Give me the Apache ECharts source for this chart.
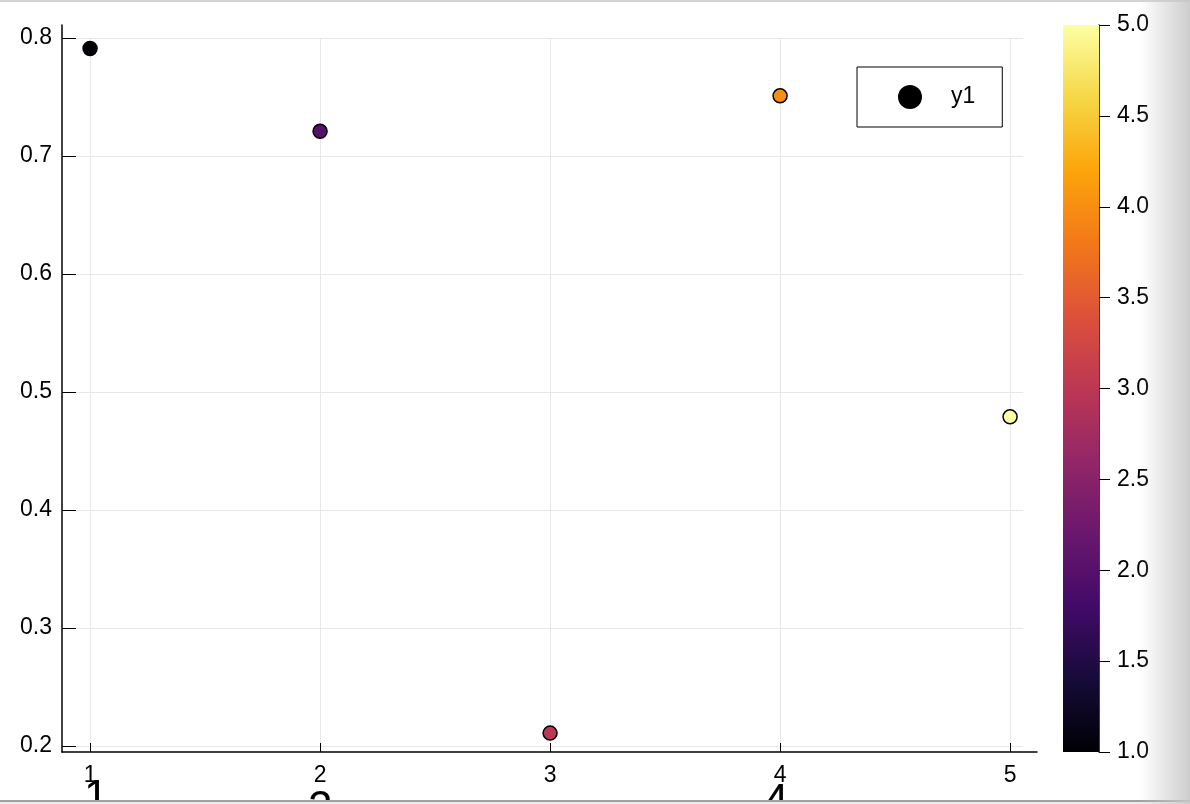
<!DOCTYPE html>
<html>
<head>
<meta charset="utf-8">
<script src="https://cdn.jsdelivr.net/npm/echarts@6/dist/echarts.min.js"></script>
<style>
html,body{margin:0;padding:0;background:#fff;}
#chart{width:1190px;height:804px;}
</style>
</head>
<body>
<div id="chart"></div>
<script>
const xValues = [1, 2, 3, 4, 5];
const yValues = [0.791, 0.721, 0.211, 0.751, 0.479];
const colorValues = [1, 2, 3, 4, 5];
const seriesName = 'y1';
const infernoStops = ['#000004', '#160b39', '#420a68', '#6a176e', '#932667', '#bc3754', '#dd513a', '#f37819', '#fca50a', '#f6d746', '#fcffa4'];
const colorbarCategory = ['cb'];

const cMin = Math.min(...colorValues), cMax = Math.max(...colorValues);
const points = xValues.map((x, i) => [x, yValues[i], colorValues[i]]);

const font = '"Liberation Sans", Arial, sans-serif';
const FS = 23;
const chart = echarts.init(document.getElementById('chart'), null, {renderer: 'canvas'});

const gradStops = infernoStops.map((c, i) => ({offset: 1 - i / (infernoStops.length - 1), color: c}));

const X_MIN = 0.878, X_MAX = 5.117, Y_MIN = 0.195, Y_MAX = 0.811;

chart.setOption({
  animation: false,
  backgroundColor: '#fff',
  textStyle: {fontFamily: font},
  grid: [
    {left: 62, top: 25, right: 153, bottom: 52, containLabel: false},
    {left: 1063, top: 25, width: 36, height: 727, containLabel: false},
    {left: 62, top: 38, right: 167, bottom: 52, containLabel: false}
  ],
  xAxis: [
    {
      gridIndex: 0, type: 'value', min: X_MIN, max: X_MAX, splitNumber: 4,
      axisLine: {show: true, onZero: false, lineStyle: {color: '#000', width: 1.5}},
      axisTick: {show: true, inside: true, length: 9, lineStyle: {color: '#000', width: 1}},
      axisLabel: {color: '#000', fontSize: FS, margin: 12, fontFamily: font, showMinLabel: false, showMaxLabel: false},
      splitLine: {show: false}
    },
    {
      gridIndex: 1, type: 'category', data: colorbarCategory, show: false
    },
    {
      gridIndex: 2, type: 'value', min: X_MIN, max: 5.056, splitNumber: 4,
      axisLine: {show: false}, axisTick: {show: false}, axisLabel: {show: false},
      splitLine: {show: true, showMinLine: false, showMaxLine: false, lineStyle: {color: '#e8e8e8', width: 1}}
    }
  ],
  yAxis: [
    {
      gridIndex: 0, type: 'value', min: Y_MIN, max: Y_MAX, splitNumber: 6,
      axisLine: {show: true, onZero: false, lineStyle: {color: '#000', width: 1.5}},
      axisTick: {show: true, inside: true, length: 14, lineStyle: {color: '#000', width: 1}},
      axisLabel: {color: '#000', fontSize: FS, margin: 10, fontFamily: font, showMinLabel: false, showMaxLabel: false},
      splitLine: {show: false}
    },
    {
      gridIndex: 1, type: 'value', position: 'right', min: cMin, max: cMax, interval: 0.5,
      axisLine: {show: true, lineStyle: {color: '#000', width: 1.5}},
      axisTick: {show: true, inside: false, length: 11, lineStyle: {color: '#000', width: 1}},
      axisLabel: {color: '#000', fontSize: FS, margin: 18, fontFamily: font, formatter: v => v.toFixed(1)},
      splitLine: {show: false}
    },
    {
      gridIndex: 2, type: 'value', min: Y_MIN, max: 0.8, splitNumber: 6,
      axisLine: {show: false}, axisTick: {show: false}, axisLabel: {show: false},
      splitLine: {show: true, showMinLine: false, showMaxLine: true, lineStyle: {color: '#e8e8e8', width: 1}}
    }
  ],
  visualMap: {
    show: false, type: 'continuous', min: cMin, max: cMax, dimension: 2, seriesIndex: 0,
    inRange: {color: infernoStops}
  },
  legend: {
    data: [seriesName],
    left: 857, top: 67,
    icon: 'circle', itemWidth: 24, itemHeight: 24,
    padding: [18, 27, 18, 41],
    borderColor: '#000', borderWidth: 1, borderRadius: 0,
    backgroundColor: '#fff',
    textStyle: {fontSize: FS, color: '#000', fontFamily: font, padding: [0, 0, 0, 24]},
    itemStyle: {color: '#000', borderWidth: 0}
  },
  series: [
    {
      name: seriesName, type: 'scatter', xAxisIndex: 0, yAxisIndex: 0,
      data: points, symbolSize: 14, z: 5,
      itemStyle: {color: '#000', borderColor: '#000', borderWidth: 1.5, opacity: 1}
    },
    {
      type: 'bar', xAxisIndex: 1, yAxisIndex: 1, data: [cMax], barWidth: '100%',
      itemStyle: {color: new echarts.graphic.LinearGradient(0, 0, 0, 1, gradStops)},
      silent: true
    }
  ],
  graphic: [
    {type: 'rect', left: 0, top: 0, shape: {width: 1190, height: 2}, style: {fill: '#d4d4d4'}, z: 100},
    {type: 'text', left: 84, top: 777, style: {text: '1', font: '44px ' + font, fill: '#000'}, z: 90},
    {type: 'text', left: 308, top: 788, style: {text: '2', font: '44px ' + font, fill: '#000'}, z: 90},
    {type: 'text', left: 764, top: 781, style: {text: '4', font: '44px ' + font, fill: '#000'}, z: 90},
    {type: 'rect', left: 0, top: 800, shape: {width: 1190, height: 4}, style: {fill: '#ececec'}, z: 95},
    {type: 'rect', left: 0, top: 800, shape: {width: 1190, height: 2}, style: {fill: '#a0a0a0'}, z: 96},
    {type: 'rect', left: 1140, top: 0, shape: {width: 50, height: 804},
      style: {fill: new echarts.graphic.LinearGradient(0, 0, 1, 0, [
        {offset: 0, color: 'rgba(200,200,200,0)'},
        {offset: 1, color: 'rgba(200,200,200,0.9)'}
      ])}, z: 100}
  ]
});
</script>
</body>
</html>
